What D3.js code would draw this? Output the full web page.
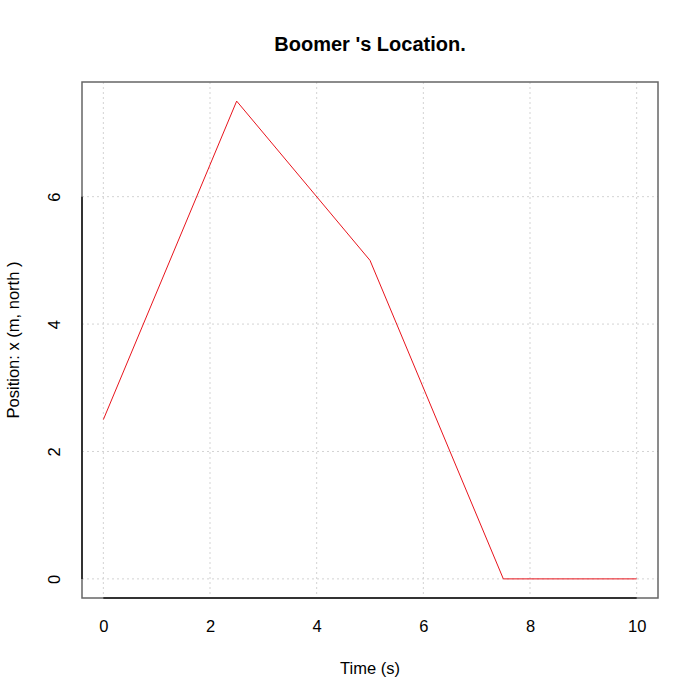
<!DOCTYPE html>
<html>
<head>
<meta charset="utf-8">
<script src="https://cdn.jsdelivr.net/npm/d3@7"></script>
<style>
  body { margin: 0; background: #fff; }
  text { font-family: "Liberation Sans", Arial, sans-serif; }
</style>
</head>
<body>
<div id="chart"></div>
<script>
// Boomer's position over time
var times = [0, 2.5, 5, 7.5, 10];
var positions = [2.5, 7.5, 5, 0, 0];
var xTicks = [0, 2, 4, 6, 8, 10];
var yTicks = [0, 2, 4, 6];

var width = 700, height = 700;
var plotLeft = 82, plotRight = 658, plotTop = 82, plotBottom = 598;

var svg = d3.select("#chart").append("svg")
  .attr("width", width)
  .attr("height", height);

// R style: 4% padding on both sides of the data range
var x = d3.scaleLinear().domain([-0.4, 10.4]).range([plotLeft, plotRight]);
var y = d3.scaleLinear().domain([-0.3, 7.8]).range([plotBottom, plotTop]);

// dotted grid
svg.selectAll(".gx").data(xTicks).join("line")
  .attr("x1", function (d) { return x(d); })
  .attr("x2", function (d) { return x(d); })
  .attr("y1", plotTop).attr("y2", plotBottom)
  .attr("stroke", "#d3d3d3").attr("stroke-dasharray", "2,3");

svg.selectAll(".gy").data(yTicks).join("line")
  .attr("y1", function (d) { return y(d); })
  .attr("y2", function (d) { return y(d); })
  .attr("x1", plotLeft).attr("x2", plotRight)
  .attr("stroke", "#d3d3d3").attr("stroke-dasharray", "2,3");

// the line
var line = d3.line()
  .x(function (d, i) { return x(times[i]); })
  .y(function (d) { return y(d); });

svg.append("path")
  .datum(positions)
  .attr("d", line)
  .attr("fill", "none")
  .attr("stroke", "#e8141c")
  .attr("stroke-width", 1);

// box
svg.append("rect")
  .attr("x", plotLeft).attr("y", plotTop)
  .attr("width", plotRight - plotLeft).attr("height", plotBottom - plotTop)
  .attr("fill", "none").attr("stroke", "#666").attr("stroke-width", 1.5);

// axes without tick marks
var xAxis = d3.axisBottom(x).tickValues(xTicks).tickSize(0).tickPadding(22);
var gx = svg.append("g").attr("transform", "translate(0," + plotBottom + ")").call(xAxis);
gx.select(".domain").attr("d", "M" + x(0) + ",0H" + x(10)).attr("stroke", "#333").attr("stroke-width", 2);
gx.selectAll("text").attr("font-size", 16.5).attr("fill", "#000")
  .attr("font-family", "Liberation Sans, Arial, sans-serif");

var yAxis = d3.axisLeft(y).tickValues(yTicks).tickSize(0).tickPadding(0);
var gy = svg.append("g").attr("transform", "translate(" + plotLeft + ",0)").call(yAxis);
gy.select(".domain").attr("d", "M0," + y(0) + "V" + y(6)).attr("stroke", "#333").attr("stroke-width", 2);
gy.selectAll("text")
  .attr("font-size", 16.5).attr("fill", "#000")
  .attr("font-family", "Liberation Sans, Arial, sans-serif")
  .attr("text-anchor", "middle")
  .attr("dy", null)
  .attr("x", null)
  .attr("transform", "translate(-22,0) rotate(-90)");

// titles
svg.append("text")
  .attr("x", (plotLeft + plotRight) / 2).attr("y", 51)
  .attr("text-anchor", "middle")
  .attr("font-size", 20).attr("font-weight", "bold")
  .text("Boomer 's Location.");

svg.append("text")
  .attr("x", (plotLeft + plotRight) / 2).attr("y", 674)
  .attr("text-anchor", "middle")
  .attr("font-size", 16.5)
  .text("Time (s)");

svg.append("text")
  .attr("transform", "translate(19," + (plotTop + plotBottom) / 2 + ") rotate(-90)")
  .attr("text-anchor", "middle")
  .attr("font-size", 16.5)
  .text("Position: x (m, north )");
</script>
</body>
</html>
